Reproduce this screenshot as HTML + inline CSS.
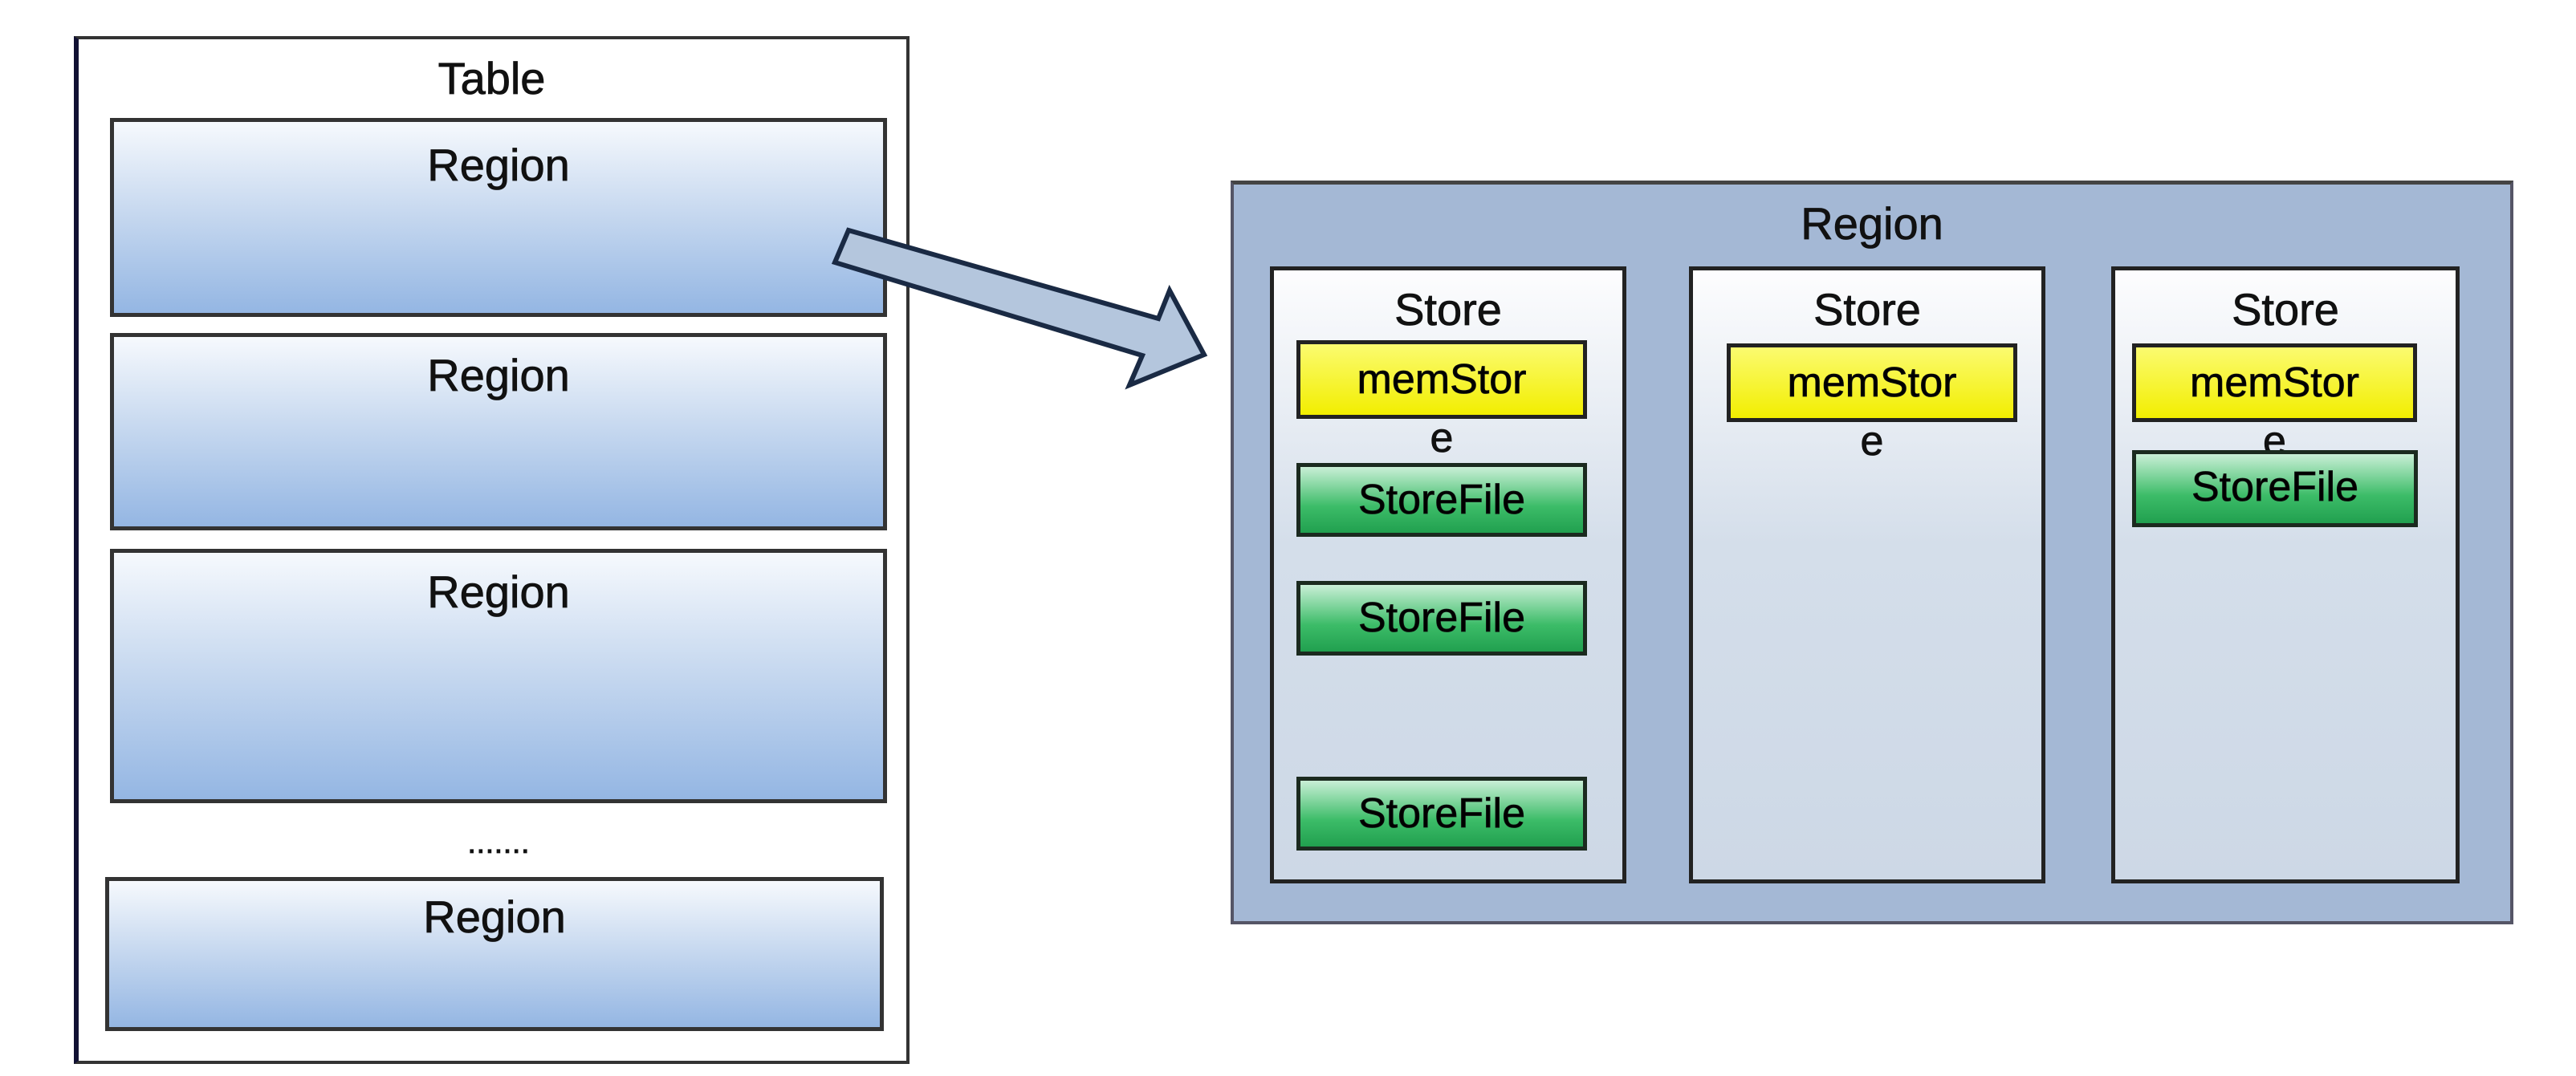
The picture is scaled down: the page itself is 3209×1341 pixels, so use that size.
<!DOCTYPE html>
<html><head><meta charset="utf-8"><style>
body{margin:0;width:3209px;height:1341px;background:#fff;position:relative;overflow:hidden;font-family:"Liberation Sans","DejaVu Sans",sans-serif;}
div{position:absolute;box-sizing:border-box;}
.t{text-align:center;color:#111;font-size:56px;line-height:1;-webkit-text-stroke:0.8px #111;}
.reg{background:linear-gradient(#f6f9fd,#c9daf0 45%,#94b6e3);border:5px solid #333;}
.store{background:linear-gradient(#fdfdfe,#d4deea 45%,#cdd8e6);border:5px solid #222;}
.mem{background:linear-gradient(#fbfb70,#f2ee00);border:5px solid #222;font-size:52px;text-align:center;line-height:88px;-webkit-text-stroke:0.8px #111;}
.sf{background:linear-gradient(#c9efd6,#3cbc68 60%,#21a04f);border:5px solid #1b2a1f;font-size:52px;text-align:center;line-height:82px;-webkit-text-stroke:0.8px #111;}
</style></head><body>
<div style="left:92px;top:45px;width:1041px;height:1281px;border:4px solid #333;border-left:6px solid #111133;"></div>
<div class="t" style="left:92px;top:70px;width:1041px;">Table</div>
<div class="reg" style="left:137px;top:147px;width:968px;height:248px;"></div>
<div class="t" style="left:137px;top:178px;width:968px;">Region</div>
<div class="reg" style="left:137px;top:415px;width:968px;height:246px;"></div>
<div class="t" style="left:137px;top:440px;width:968px;">Region</div>
<div class="reg" style="left:137px;top:684px;width:968px;height:317px;"></div>
<div class="t" style="left:137px;top:710px;width:968px;">Region</div>
<div class="t" style="left:137px;top:1030px;width:968px;font-size:40px;">.......</div>
<div class="reg" style="left:131px;top:1093px;width:970px;height:192px;"></div>
<div class="t" style="left:131px;top:1115px;width:970px;">Region</div>
<svg style="position:absolute;left:0;top:0" width="3209" height="1341">
<polygon points="1057,287 1443,397 1457,362 1500,442 1407,480 1423,443 1040,327" fill="#b4c6dd" stroke="#1a2a44" stroke-width="6" stroke-linejoin="miter"/>
</svg>
<div style="left:1533px;top:225px;width:1598px;height:927px;background:#a4b8d5;border:4px solid #556;border-top:5px solid #444;"></div>
<div class="t" style="left:1533px;top:251px;width:1598px;">Region</div>
<div class="store" style="left:1582px;top:332px;width:444px;height:769px;"></div>
<div class="store" style="left:2104px;top:332px;width:444px;height:769px;"></div>
<div class="store" style="left:2630px;top:332px;width:434px;height:769px;"></div>
<div class="t" style="left:1582px;top:358px;width:444px;">Store</div>
<div class="t" style="left:2104px;top:358px;width:444px;">Store</div>
<div class="t" style="left:2630px;top:358px;width:434px;">Store</div>
<div class="t" style="left:1615px;top:520px;width:362px;font-size:52px;">e</div>
<div class="t" style="left:2151px;top:524px;width:362px;font-size:52px;">e</div>
<div class="t" style="left:2656px;top:524px;width:355px;font-size:52px;">e</div>
<div class="mem" style="left:1615px;top:424px;width:362px;height:98px;">memStor</div>
<div class="mem" style="left:2151px;top:428px;width:362px;height:98px;">memStor</div>
<div class="mem" style="left:2656px;top:428px;width:355px;height:98px;">memStor</div>
<div class="sf" style="left:1615px;top:577px;width:362px;height:92px;">StoreFile</div>
<div class="sf" style="left:1615px;top:724px;width:362px;height:93px;">StoreFile</div>
<div class="sf" style="left:1615px;top:968px;width:362px;height:92px;">StoreFile</div>
<div class="sf" style="left:2656px;top:561px;width:356px;height:96px;">StoreFile</div>
</body></html>
